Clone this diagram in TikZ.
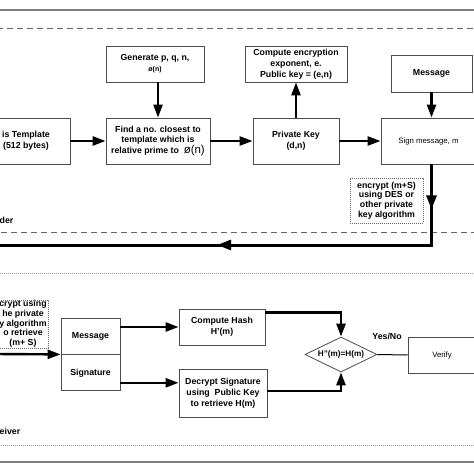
\documentclass[tikz,border=0pt]{standalone}
\usepackage{fontspec}
\setmainfont{Liberation Sans}
\usetikzlibrary{shapes.geometric,arrows.meta,positioning,decorations.markings}
\tikzstyle{block} = [rectangle, draw=black!70, line width=0.8bp, align=center, inner sep=1bp, font=\bfseries\fontsize{8.8}{11}\selectfont]
\tikzstyle{plainblock} = [block, font=\fontsize{7.8}{10}\selectfont]
\tikzstyle{dblock} = [block, draw=black!60, dash pattern=on 1bp off 1bp, font=\bfseries\fontsize{8.8}{9.7}\selectfont]
\tikzstyle{decision} = [diamond, draw=black!70, line width=0.8bp, aspect=2, inner sep=1bp, font=\bfseries\fontsize{8.2}{10}\selectfont]
\tikzstyle{txt} = [inner sep=0pt, align=center, font=\bfseries\fontsize{8.8}{9.7}\selectfont]
\tikzstyle{flow} = [-{Triangle[length=13bp,width=9bp]}, line width=2.4bp]
\tikzstyle{output} = [coordinate]

\begin{document}
\begin{tikzpicture}[x=1bp, y=-1bp]
    \useasboundingbox (0,0) rectangle (474,474);
    % frames
    \draw[black!50, line width=1.2bp] (-5,10) rectangle (480,462);
    \draw[black!60, line width=0.8bp, dash pattern=on 6bp off 4bp] (-5,28) rectangle (480,232);
    \draw[black!40, line width=0.8bp, dash pattern=on 1bp off 1bp] (-5,273) rectangle (480,445);
    \node[txt, anchor=west] (sndr) at (-0.5,220) {der};
    \node[txt, anchor=west] (rcvr) at (-0.5,431) {eiver};

    % sender
    \node[block, minimum width=110bp, minimum height=46bp] (iris) at (15,141) {};
    \node[txt, font=\bfseries\fontsize{8.8}{11}\selectfont] (iristxt) at (26,141) {is Template\\(512 bytes)};
    \node[block, minimum width=98bp, minimum height=36bp] (gen) at (155,64) {Generate p, q, n,\\{\fontsize{7}{8}\selectfont ø(n)}};
    \node[block, minimum width=104bp, minimum height=46bp] (find) at (158,141) {Find a no. closest to\\template which is\\relative prime to\ \ {\mdseries\fontsize{11.5}{11}\selectfont ø(n)}};
    \node[block, minimum width=86bp, minimum height=46bp] (priv) at (296,141) {Private Key\\(d,n)};
    \node[block, minimum width=102bp, minimum height=36bp] (comp) at (296,64) {Compute encryption\\exponent, e.\\Public key = (e,n)};
    \node[block, minimum width=81bp, minimum height=37bp] (msg) at (431.5,73.5) {Message};
    \node[plainblock, minimum width=95bp, minimum height=46bp] (sign) at (428.5,141) {Sign message, m};
    \node[dblock, minimum width=73bp, minimum height=45bp] (enc) at (386.5,200.5) {encrypt (m+S)\\using DES or\\other private\\key algorithm};
    \node[output] (back) at (-5,245) {};

    \draw[flow] (iris) -- (find);
    \draw[flow] (gen.south -| find.north) -- (find.north);
    \draw[flow] (find) -- (priv);
    \draw[flow] (priv) -- (comp);
    \draw[flow] (priv) -- (sign);
    \draw[flow] (msg.south) -- (msg.south |- sign.north);
    \draw[line width=3bp, postaction={decorate}, decoration={markings,
        mark=at position 45bp with {\arrow{Triangle[length=14bp,width=10bp]}},
        mark=at position 295bp with {\arrow{Triangle[length=14bp,width=10bp]}}}]
        (msg.south |- sign.south) |- (back);

    % receiver
    \node[dblock, minimum width=88bp, minimum height=48bp] (dec) at (4,324) {};
    \node[txt] (dectxt) at (23,324) {crypt using\\he private\\y algorithm\\o retrieve\\(m+ S)};
    \node[output] (in) at (-5,354) {};
    \node[block, minimum width=59bp, minimum height=36bp] (msgR) at (90.5,336) {Message};
    \node[block, minimum width=59bp, minimum height=36bp, below=0pt of msgR] (sigR) {Signature};
    \node[block, minimum width=86bp, minimum height=36bp] (hash) at (222,327) {Compute Hash\\H'(m)};
    \node[block, minimum width=88bp, minimum height=48bp] (dsig) at (223,393) {Decrypt Signature\\using\ \ Public Key\\to retrieve H(m)};
    \node[decision, minimum width=72bp, minimum height=35bp] (dia) at (341,354.5) {H"(m)=H(m)};
    \node[plainblock, minimum width=68bp, minimum height=36bp] (verify) at (442,355) {Verify};
    \node[txt] (yn) at (387,336) {Yes/No};

    \draw[flow] (in) -- (msgR.south west);
    \draw[flow] (msgR.east |- hash.west) -- (hash.west);
    \draw[flow] ([yshift=-10bp]sigR.east) -- ([yshift=-10bp]sigR.east -| dsig.west);
    \draw[flow, line width=2.6bp] ([yshift=-4bp]hash.north east) -| (dia.north);
    \draw[flow, line width=2.6bp] ([yshift=2bp]dsig.east) -| (dia.south);
    \draw[line width=1bp] (dia.east) -- (verify.west);
\end{tikzpicture}
\end{document}
